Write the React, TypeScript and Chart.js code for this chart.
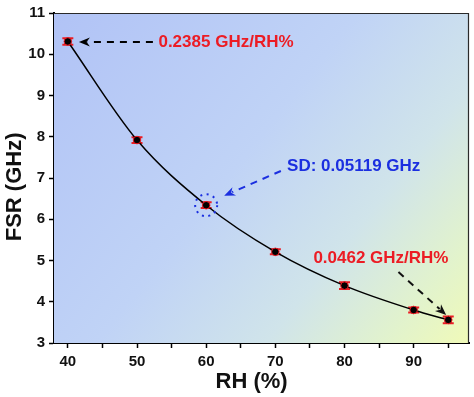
import { useEffect, useRef } from "react";
import { Chart, registerables } from "chart.js";

Chart.register(...registerables);

// ---- data ----
const rhValues = [40, 50, 60, 70, 80, 90, 95];
const fsrValues = [10.31, 7.92, 6.34, 5.21, 4.39, 3.8, 3.56];
const fsrErrors = [0.08, 0.07, 0.07, 0.06, 0.08, 0.06, 0.08];
const xLabelTicks = [40, 50, 60, 70, 80, 90];
const yLabelTicks = [3, 4, 5, 6, 7, 8, 9, 10, 11];
const xTitle = "RH (%)";
const yTitle = "FSR (GHz)";

// annotations (data coordinates)
const noteTexts = ["0.2385 GHz/RH%", "SD: 0.05119 GHz", "0.0462 GHz/RH%"];
const noteX = [53.1, 71.7, 75.5];
const noteY = [10.29, 7.29, 5.05];
const arrowFromX = [52.3, 70.8, 87.8];
const arrowFromY = [10.3, 7.17, 4.72];
const arrowToX = [41.6, 62.6, 94.7];
const arrowToY = [10.3, 6.57, 3.68];
const sdCircleIndex = 2;

const RED = "#ec1c24";
const BLUE = "#1b2fe0";
const FONT = "'Liberation Sans', Arial, Helvetica, sans-serif";

function drawArrow(
  ctx: CanvasRenderingContext2D,
  x1: number, y1: number, x2: number, y2: number,
  color: string
) {
  const ang = Math.atan2(y2 - y1, x2 - x1);
  const headLen = 11;
  const headW = 4.5;
  const bx = x2 - Math.cos(ang) * headLen * 0.8;
  const by = y2 - Math.sin(ang) * headLen * 0.8;
  ctx.save();
  ctx.strokeStyle = color;
  ctx.fillStyle = color;
  ctx.lineWidth = 2;
  ctx.setLineDash([7, 6]);
  ctx.beginPath();
  ctx.moveTo(x1, y1);
  ctx.lineTo(bx, by);
  ctx.stroke();
  ctx.setLineDash([]);
  const px = -Math.sin(ang);
  const py = Math.cos(ang);
  const hx = x2 - Math.cos(ang) * headLen;
  const hy = y2 - Math.sin(ang) * headLen;
  const nx = x2 - Math.cos(ang) * headLen * 0.7;
  const ny = y2 - Math.sin(ang) * headLen * 0.7;
  ctx.beginPath();
  ctx.moveTo(x2, y2);
  ctx.lineTo(hx + px * headW, hy + py * headW);
  ctx.lineTo(nx, ny);
  ctx.lineTo(hx - px * headW, hy - py * headW);
  ctx.closePath();
  ctx.fill();
  ctx.restore();
}

const decorPlugin = {
  id: "decor",
  beforeDatasetsDraw(chart: any) {
    const { ctx, chartArea: a, scales } = chart;
    ctx.save();
    const g = ctx.createLinearGradient(a.left, a.top, a.right, a.bottom);
    g.addColorStop(0, "#b1c3f6");
    g.addColorStop(0.45, "#c0d3f6");
    g.addColorStop(0.7, "#d0e4ea");
    g.addColorStop(0.88, "#e2f3cc");
    g.addColorStop(1, "#f0fab8");
    ctx.fillStyle = g;
    ctx.fillRect(a.left, a.top, a.width, a.height);
    // error bars
    ctx.strokeStyle = RED;
    ctx.lineWidth = 2;
    for (let i = 0; i < rhValues.length; i++) {
      const x = scales.x.getPixelForValue(rhValues[i]);
      const yt = scales.y.getPixelForValue(fsrValues[i] + fsrErrors[i]);
      const yb = scales.y.getPixelForValue(fsrValues[i] - fsrErrors[i]);
      ctx.beginPath();
      ctx.moveTo(x, yt);
      ctx.lineTo(x, yb);
      ctx.moveTo(x - 5.5, yt);
      ctx.lineTo(x + 5.5, yt);
      ctx.moveTo(x - 5.5, yb);
      ctx.lineTo(x + 5.5, yb);
      ctx.stroke();
    }
    ctx.restore();
  },
  afterDatasetsDraw(chart: any) {
    const { ctx, scales } = chart;
    ctx.save();
    // dotted circle around SD point
    const cx = scales.x.getPixelForValue(rhValues[sdCircleIndex]);
    const cy = scales.y.getPixelForValue(fsrValues[sdCircleIndex]);
    ctx.strokeStyle = BLUE;
    ctx.lineWidth = 2;
    ctx.setLineDash([2, 4.5]);
    ctx.beginPath();
    ctx.arc(cx, cy, 11, 0, Math.PI * 2);
    ctx.stroke();
    ctx.setLineDash([]);
    const colors = ["#000", BLUE, "#111"];
    for (let i = 0; i < arrowFromX.length; i++) {
      drawArrow(
        ctx,
        scales.x.getPixelForValue(arrowFromX[i]),
        scales.y.getPixelForValue(arrowFromY[i]),
        scales.x.getPixelForValue(arrowToX[i]),
        scales.y.getPixelForValue(arrowToY[i]),
        colors[i]
      );
    }
    const textColors = [RED, BLUE, RED];
    ctx.font = `bold 17px ${FONT}`;
    ctx.textBaseline = "middle";
    ctx.textAlign = "left";
    for (let i = 0; i < noteTexts.length; i++) {
      ctx.fillStyle = textColors[i];
      ctx.fillText(
        noteTexts[i],
        scales.x.getPixelForValue(noteX[i]),
        scales.y.getPixelForValue(noteY[i])
      );
    }
    ctx.restore();
  },
  afterDraw(chart: any) {
    const { ctx, chartArea: a } = chart;
    ctx.save();
    ctx.strokeStyle = "#2a2a2a";
    ctx.lineWidth = 1.2;
    ctx.beginPath();
    ctx.moveTo(a.left, a.top + 0.5);
    ctx.lineTo(a.right - 0.5, a.top + 0.5);
    ctx.lineTo(a.right - 0.5, a.bottom);
    ctx.stroke();
    // axis titles
    ctx.fillStyle = "#111";
    ctx.font = `bold 22px ${FONT}`;
    ctx.textAlign = "center";
    ctx.textBaseline = "middle";
    ctx.fillText(xTitle, a.left + a.width * 0.476, a.bottom + 39);
    ctx.translate(15, a.top + a.height * 0.527);
    ctx.rotate(-Math.PI / 2);
    ctx.fillText(yTitle, 0, 0);
    ctx.restore();
  },
};

export default function App() {
  const ref = useRef<HTMLCanvasElement | null>(null);
  useEffect(() => {
    if (!ref.current) return;
    Chart.defaults.font.family = FONT;
    const chart = new Chart(ref.current, {
      type: "line",
      data: {
        datasets: [
          {
            data: rhValues.map((x, i) => ({ x, y: fsrValues[i] })),
            borderColor: "#000",
            borderWidth: 1.5,
            cubicInterpolationMode: "monotone",
            pointRadius: 3.8,
            pointBackgroundColor: "#000",
            pointBorderColor: RED,
            pointBorderWidth: 1,
            fill: false,
          },
        ],
      },
      options: {
        responsive: false,
        animation: false,
        layout: { padding: { top: 7, right: 3, left: 0, bottom: 0 } },
        plugins: {
          legend: { display: false },
          tooltip: { enabled: false },
        },
        scales: {
          x: {
            type: "linear",
            min: 38,
            max: 98,
            afterFit: (s: any) => {
              s.height = 54;
            },
            afterBuildTicks: (s: any) => {
              const t: any[] = [];
              for (let v = 40; v <= 95; v += 5) t.push({ value: v });
              s.ticks = t;
            },
            border: { color: "#000", width: 2 },
            grid: {
              drawOnChartArea: false,
              drawTicks: true,
              tickLength: 5,
              tickColor: "#000",
              tickWidth: 1.5,
            },
            ticks: {
              color: "#111",
              padding: 5,
              font: { size: 15, weight: "bold" },
              callback: (v: any) => (xLabelTicks.includes(Number(v)) ? String(v) : ""),
              maxRotation: 0,
            },
            title: { display: false },
          },
          y: {
            type: "linear",
            min: 3,
            max: 11,
            afterFit: (s: any) => {
              s.width = 54;
            },
            afterBuildTicks: (s: any) => {
              const t: any[] = [];
              for (let v = 3; v <= 11.001; v += 0.5) t.push({ value: Math.round(v * 2) / 2 });
              s.ticks = t;
            },
            border: { color: "#000", width: 2 },
            grid: {
              drawOnChartArea: false,
              drawTicks: true,
              tickLength: 5,
              tickColor: "#000",
              tickWidth: 1.5,
            },
            ticks: {
              color: "#111",
              padding: 4,
              font: { size: 15, weight: "bold" },
              callback: (v: any) => (yLabelTicks.includes(Number(v)) ? String(v) : ""),
            },
            title: { display: false },
          },
        },
      },
      plugins: [decorPlugin],
    });
    return () => chart.destroy();
  }, []);
  return (
    <div style={{ position: "fixed", left: 0, top: 0, width: 474, height: 397, background: "#fff" }}>
      <canvas ref={ref} width={474} height={397} style={{ display: "block" }} />
    </div>
  );
}
